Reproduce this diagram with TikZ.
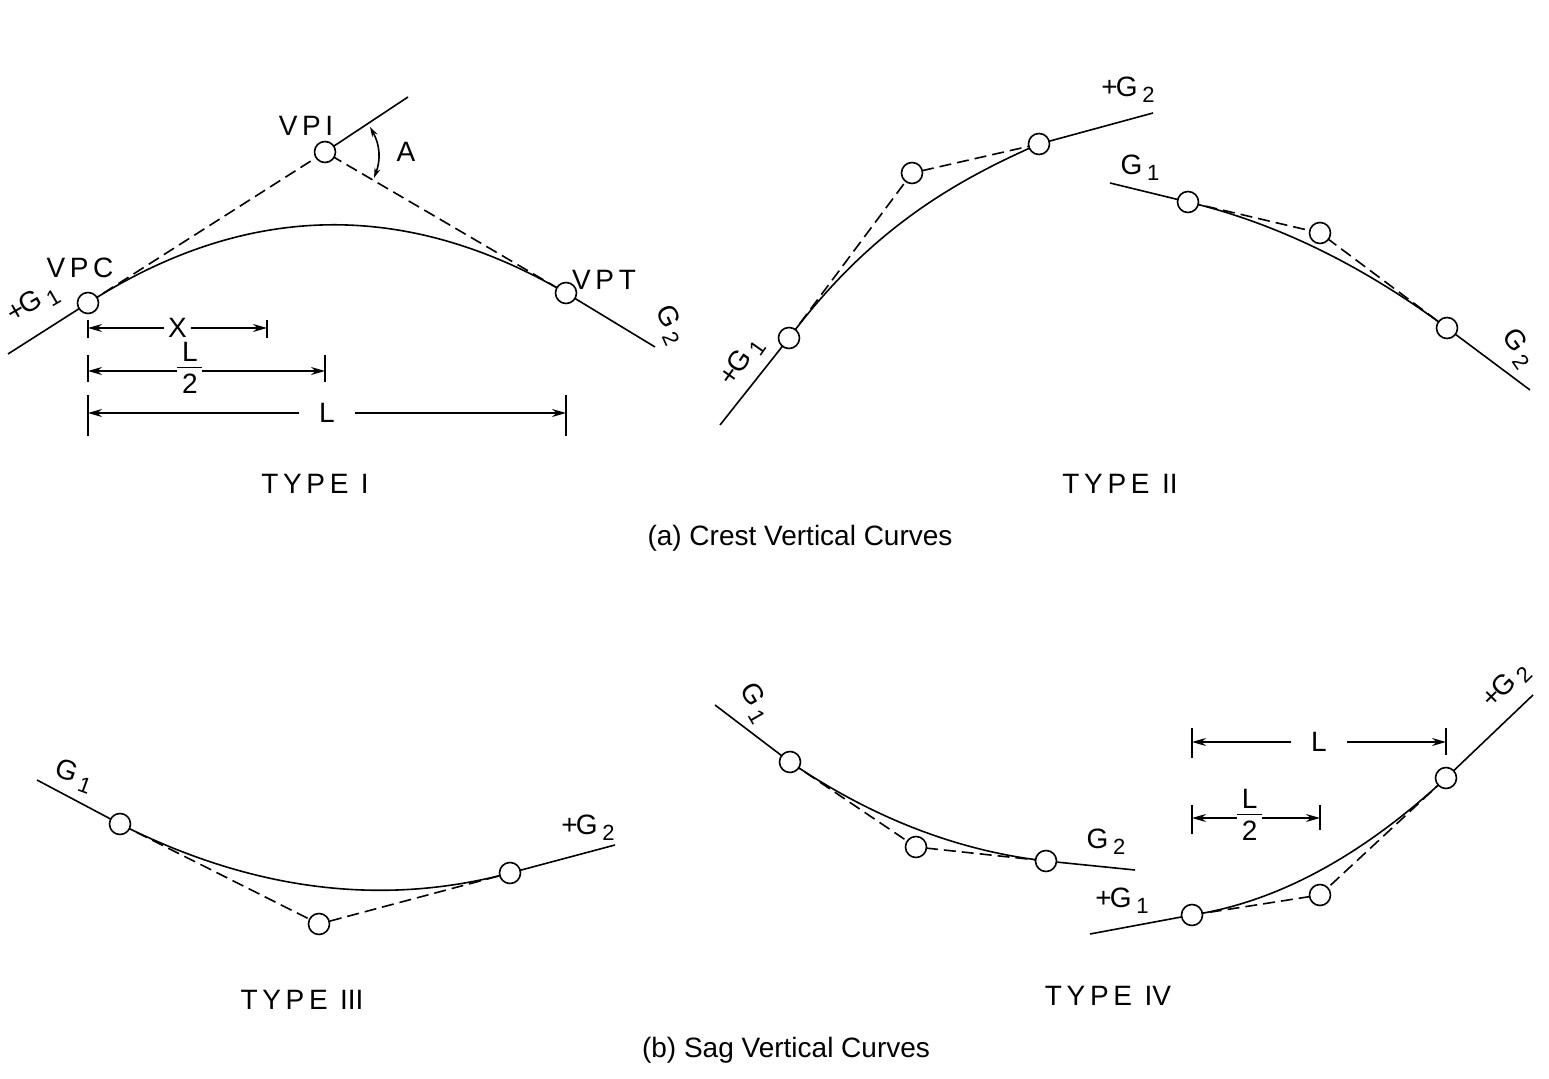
\documentclass[tikz,border=0pt]{standalone}
\usepackage{fontspec}
\setmainfont{Liberation Sans}
\usetikzlibrary{arrows.meta}
\newcommand{\gsb}[1]{\,\raisebox{-3pt}{\fontsize{11}{11}\selectfont #1}}
\newcommand{\hlf}{\begin{tabular}{@{}c@{}}\rule[-3pt]{0pt}{12pt}\,L\,\\[-2pt]\hline\rule{0pt}{13pt}2\end{tabular}}
\begin{document}
\begin{tikzpicture}[x=0.5pt,y=-0.5pt,line width=0.8pt,
  pt/.style={circle,draw,fill=white,inner sep=0pt,minimum size=10.5pt},
  tan/.style={dashed,dash pattern=on 6pt off 3pt},
  lab/.style={font=\fontsize{14}{16}\selectfont,inner sep=1pt},
  ttl/.style={font=\fontsize{14}{16}\selectfont},
  dim/.style={{Stealth[length=7pt,width=4pt]}-{Stealth[length=7pt,width=4pt]}},
  lbl/.style={fill=white,font=\fontsize{14}{16}\selectfont,inner sep=2pt}]
\useasboundingbox (0,0) rectangle (1549,1079);
% ---------- TYPE I
\coordinate (t1a) at (8,354); \coordinate (t1b) at (408,97); \coordinate (t1c) at (655,347);
\draw (t1a) -- (88,303);
\draw (325,152) -- (t1b);
\draw (566,293) -- (t1c);
\draw (88,303) .. controls (246,202) and (405,199) .. (566,293);
\draw[tan] (88,303) -- (325,152) -- (566,293);
\node[pt] (vpc) at (88,303) {};
\node[pt] (vpi) at (325,152) {};
\node[pt] (vpt) at (566,293) {};
\node[lab] at (306,126) {V\,P\,I};
\node[lab] at (80,268) {V\,P\,C};
\node[lab] at (604,280) {V\,P\,T};
\node[lab,rotate=30] at (33,304) {+\kern-1pt G\gsb{1}};
\node[lab,rotate=-65] at (670,325) {G\gsb{2}};
\coordinate (a1) at (370,127); \coordinate (a2) at (374,178);
\draw[{Stealth[length=5pt,width=3pt]}-{Stealth[length=5pt,width=3pt]}] (a1) to[bend left=25] (a2);
\node[lab] at (406,152) {A};
% dimensions
\draw (88,320) -- (88,338); \draw (267,320) -- (267,338);
\draw[dim] (88,328) -- node[lbl] {X} (267,328);
\draw (88,355) -- (88,382); \draw (325,355) -- (325,382);
\draw[dim] (88,371) -- node[lbl,inner sep=0pt,pos=0.43] {\hlf} (325,371);
\draw (88,395) -- (88,436); \draw (566,395) -- (566,436);
\draw[dim] (88,413) -- node[lbl,inner xsep=10pt] {L} (566,413);
\node[ttl] at (315,484) {T\,Y\,P\,E\, I};
% ---------- TYPE II
\draw (720,425) -- (789,338);
\draw (789,338) .. controls (871,228) and (957,180) .. (1039,144);
\draw (1039,144) -- (1153,113);
\draw[tan] (789,338) -- (912,173) -- (1039,144);
\node[pt] at (789,338) {}; \node[pt] at (912,173) {}; \node[pt] at (1039,144) {};
\node[lab,rotate=55] at (742,362) {+\kern-1pt G\gsb{1}};
\node[lab] at (1128,90) {+\kern-1pt G\gsb{2}};
\draw (1110,183) -- (1188,202);
\draw (1188,202) .. controls (1276,223) and (1362,265) .. (1447,328);
\draw (1447,328) -- (1530,390);
\draw[tan] (1188,202) -- (1320,233) -- (1447,328);
\node[pt] at (1188,202) {}; \node[pt] at (1320,233) {}; \node[pt] at (1447,328) {};
\node[lab] at (1140,168) {G\gsb{1}};
\node[lab,rotate=-55] at (1518,348) {G\gsb{2}};
\node[ttl] at (1120,484) {T\,Y\,P\,E\, II};
\node[ttl] at (800,538) {(a) Crest Vertical Curves};
% ---------- TYPE III
\draw (37,780) -- (120,824);
\draw (120,824) .. controls (253,891) and (383,907) .. (510,873);
\draw (510,873) -- (615,845);
\draw[tan] (120,824) -- (319,924) -- (510,873);
\node[pt] at (120,824) {}; \node[pt] at (319,924) {}; \node[pt] at (510,873) {};
\node[lab,rotate=-20] at (74,776) {G\gsb{1}};
\node[lab] at (588,828) {+\kern-1pt G\gsb{2}};
\node[ttl] at (302,1000) {T\,Y\,P\,E\, III};
% ---------- TYPE IV
\draw (715,705) -- (790,762);
\draw (790,762) .. controls (874,819) and (959,851) .. (1046,861);
\draw (1046,861) -- (1135,870);
\draw[tan] (790,762) -- (916,847) -- (1046,861);
\node[pt] at (790,762) {}; \node[pt] at (916,847) {}; \node[pt] at (1046,861) {};
\node[lab,rotate=-60] at (755,703) {G\gsb{1}};
\node[lab] at (1106,842) {G\gsb{2}};
\draw (1090,934) -- (1192,915);
\draw (1192,915) .. controls (1277,902) and (1362,856) .. (1446,778);
\draw (1446,778) -- (1533,695);
\draw[tan] (1192,915) -- (1320,895) -- (1446,778);
\node[pt] at (1192,915) {}; \node[pt] at (1320,895) {}; \node[pt] at (1446,778) {};
\node[lab] at (1122,901) {+\kern-1pt G\gsb{1}};
\node[lab,rotate=45] at (1506,686) {+\kern-1pt G\gsb{2}};
\draw (1192,728) -- (1192,758); \draw (1446,728) -- (1446,755);
\draw[dim] (1192,742) -- node[lbl,inner xsep=10pt] {L} (1446,742);
\draw (1192,805) -- (1192,834); \draw (1320,805) -- (1320,830);
\draw[dim] (1192,818) -- node[lbl,inner sep=0pt,pos=0.45] {\hlf} (1320,818);
\node[ttl] at (1108,996) {T\,Y\,P\,E\, IV};
\node[ttl] at (786,1050) {(b) Sag Vertical Curves};
\end{tikzpicture}
\end{document}
